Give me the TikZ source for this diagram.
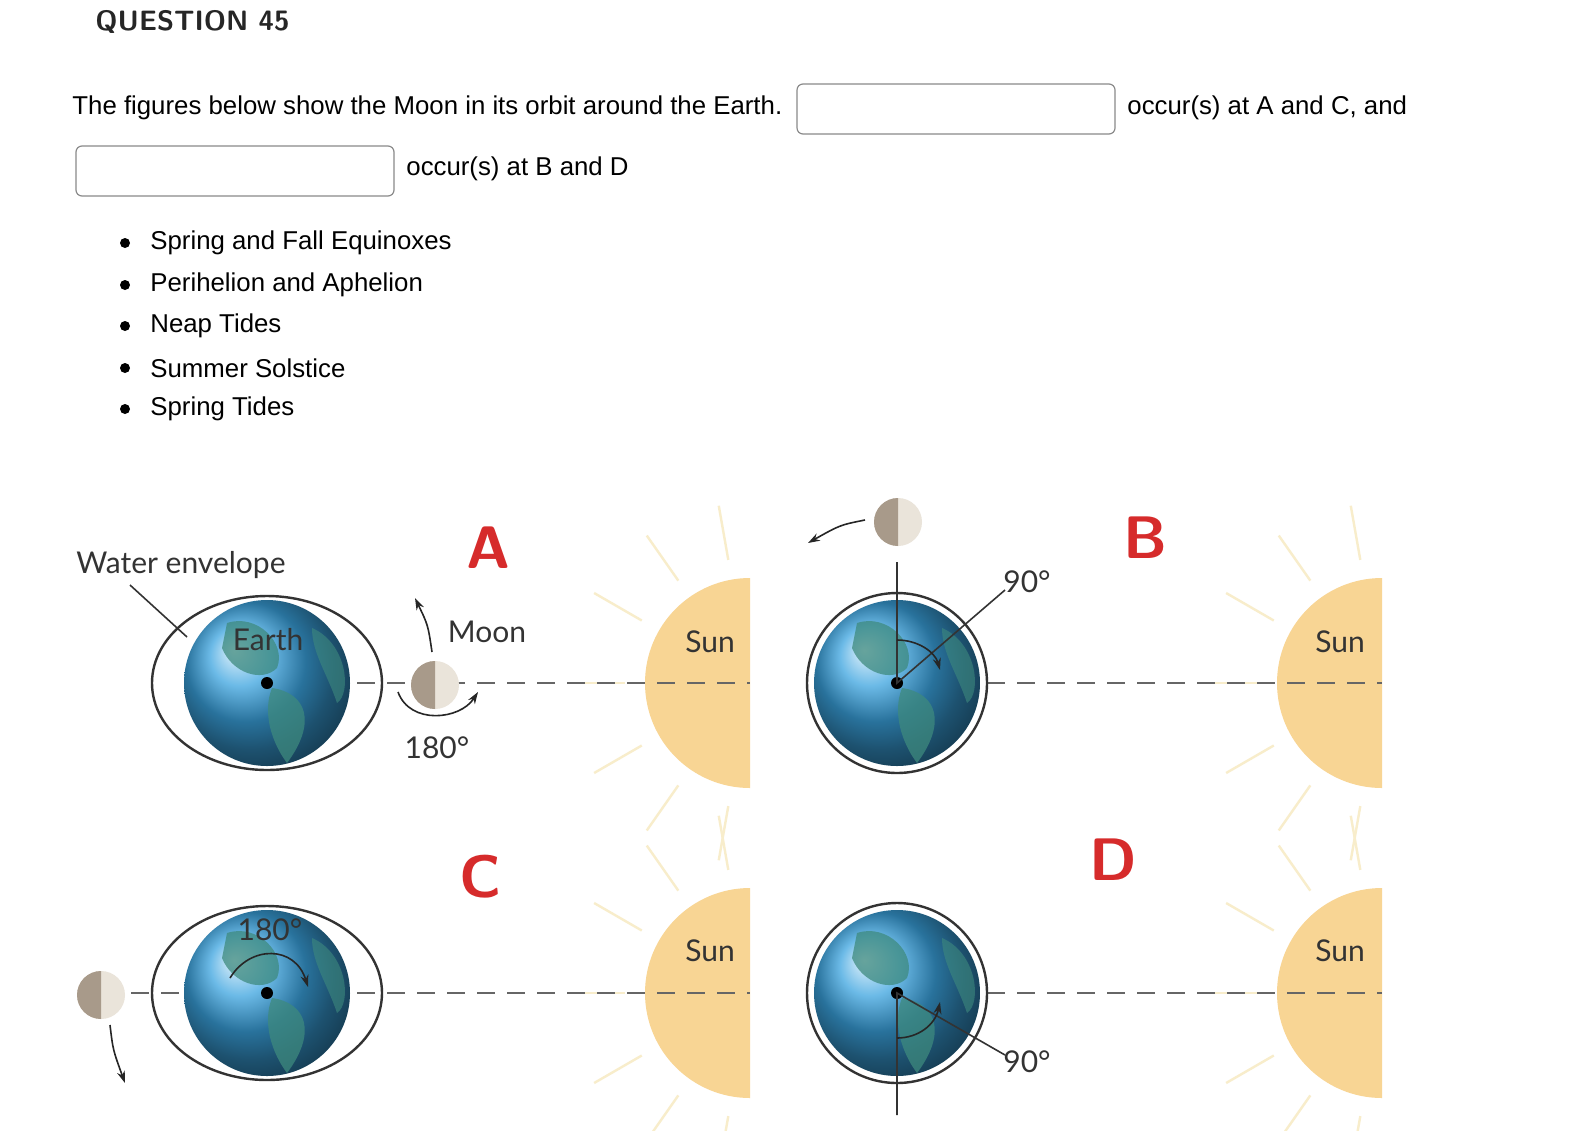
\documentclass[tikz,border=0pt]{standalone}
\usepackage{fontspec}
\setmainfont{Liberation Sans}
\newfontfamily\gill{Lato}
\usetikzlibrary{arrows.meta}
\definecolor{moondark}{HTML}{A89A8A}
\definecolor{moonlight}{HTML}{EAE4DA}
\definecolor{sunc}{HTML}{F8D594}
\definecolor{rayc}{HTML}{F8EDCB}
\definecolor{qred}{HTML}{D62B2B}
\definecolor{boxc}{HTML}{8A8A8A}
\definecolor{earthc}{HTML}{3AA3DF}
\definecolor{landc}{HTML}{3E8A7E}
\tikzset{
 qtext/.style={anchor=west,font=\fontsize{12.9}{14}\selectfont,inner sep=0},
 ansbox/.style={draw=boxc,line width=0.6pt,rounded corners=3pt},
 lbl/.style={font=\gill\fontsize{15}{17}\selectfont,text=black!80,inner sep=0},
 letter/.style={font=\sffamily\bfseries\fontsize{30}{32}\selectfont,text=qred,inner sep=0},
 dashln/.style={dash pattern=on 9pt off 6pt,line width=0.8pt,black!60},
 thin/.style={line width=0.8pt,black!80},
 arr/.style={line width=0.8pt,black!85,-{Stealth[length=6pt,width=4pt]}},
}
\newcommand{\drawearth}[2]{%
 \shade[ball color=earthc] (#1,#2) circle[radius=83];
 \fill[landc,opacity=0.75] (#1-40,#2-60) .. controls (#1-10,#2-70) and (#1+20,#2-40) .. (#1+10,#2-15)
   .. controls (#1-5,#2) and (#1-35,#2-10) .. (#1-45,#2-35) -- cycle;
 \fill[landc,opacity=0.75] (#1+5,#2+5) .. controls (#1+40,#2+10) and (#1+50,#2+40) .. (#1+20,#2+80)
   .. controls (#1+5,#2+60) and (#1-5,#2+30) .. cycle;
 \fill[landc,opacity=0.6] (#1+45,#2-55) .. controls (#1+80,#2-40) and (#1+85,#2+10) .. (#1+70,#2+20) .. controls (#1+60,#2-10) and (#1+45,#2-30) .. cycle;
}
\newcommand{\drawmoon}[2]{%
 \fill[moonlight] (#1,#2) circle[radius=24];
 \fill[moondark] (#1,#2-24) arc[start angle=-90,end angle=-270,radius=24] -- cycle;
}
\newcommand{\drawsun}[2]{%
 \begin{scope}
 \clip (#1-300,#2-200) rectangle (#1,#2+200);
 \foreach \a in {100,125,150,180,210,235,260} {
  \draw[rayc,line width=1.2pt] (#1,#2) ++(\a:125) -- ++(\a:55);
 }
 \fill[sunc] (#1,#2) circle[radius=105];
 \end{scope}
}
\begin{document}
\begin{tikzpicture}[x=0.5pt,y=-0.5pt]
\useasboundingbox (0,0) rectangle (1588,1130);
\fill[white] (0,0) rectangle (1588,1130);
\node[anchor=west,inner sep=0,font=\sffamily\bfseries\fontsize{14}{16}\selectfont,text=black!85] (q) at (95,22) {QUESTION 45};
\node[qtext] (t1) at (72,108) {The figures below show the Moon in its orbit around the Earth.};
\draw[ansbox] (797,84) rectangle (1115,134);
\node[qtext] (t2) at (1127,108) {occur(s) at A and C, and};
\draw[ansbox] (76,146) rectangle (394,196);
\node[qtext] (t3) at (406,169) {occur(s) at B and D};
\foreach \y/\t [count=\i] in {243/Spring and Fall Equinoxes,285/Perihelion and Aphelion,326/Neap Tides,368/Summer Solstice,409/Spring Tides}{
 \fill (125,\y) circle[radius=5];
 \node[qtext] (b\i) at (150,\y) {\t};
}
% Suns
\drawsun{750}{683}\drawsun{1382}{683}\drawsun{750}{993}\drawsun{1382}{993}
% dashed lines
\draw[dashln] (267,683) -- (750,683);
\draw[dashln] (897,683) -- (1382,683);
\draw[dashln] (267,993) -- (750,993);
\draw[dashln] (897,993) -- (1382,993);
\draw[dashln] (101,993) -- (267,993);
% A
\drawearth{267}{683}
\draw[thin,line width=1.2pt] (267,683) ellipse[x radius=115,y radius=87];
\fill (267,683) circle[radius=6];
\drawmoon{435}{685}
\node[lbl] (eA) at (268,640) {Earth};
\node[lbl] (mA) at (487,632) {Moon};
\node[lbl] (sA) at (710,642) {Sun};
\node[lbl] (dA) at (437,748) {180°};
\node[letter] (A) at (488,548) {A};
\node[lbl] (we) at (181,565) {Water envelope};
\draw[thin] (130,585) -- (187,637);
\draw[arr] (432,652) .. controls (428,625) .. (415,598);
\draw[arr] (398,692) .. controls (410,725) and (460,720) .. (478,692);
% B
\drawearth{897}{683}
\draw[thin,line width=1.2pt] (897,683) circle[radius=90];
\fill (897,683) circle[radius=6];
\drawmoon{898}{522}
\draw[thin] (897,562) -- (897,683) -- (1005,590);
\draw[arr] (897,640) .. controls (918,640) and (935,652) .. (940,670);
\draw[arr] (865,520) .. controls (840,525) .. (808,543);
\node[lbl] (dB) at (1027,582) {90°};
\node[lbl] (sB) at (1340,642) {Sun};
\node[letter] (B) at (1145,538) {B};
% C
\drawearth{267}{993}
\draw[thin,line width=1.2pt] (267,993) ellipse[x radius=115,y radius=87];
\fill (267,993) circle[radius=6];
\drawmoon{101}{995}
\draw[arr] (110,1025) .. controls (113,1050) .. (125,1083);
\draw[arr] (230,978) .. controls (250,945) and (295,945) .. (308,987);
\node[lbl] (dC) at (270,930) {180°};
\node[lbl] (sC) at (710,951) {Sun};
\node[letter] (C) at (481,877) {C};
% D
\drawearth{897}{993}
\draw[thin,line width=1.2pt] (897,993) circle[radius=90];
\fill (897,993) circle[radius=6];
\draw[thin] (897,1115) -- (897,993) -- (1005,1055);
\draw[arr] (897,1038) .. controls (918,1038) and (935,1025) .. (940,1002);
\node[lbl] (dD) at (1027,1062) {90°};
\node[lbl] (sD) at (1340,951) {Sun};
\node[letter] (D) at (1113,860) {D};
\end{tikzpicture}
\end{document}
